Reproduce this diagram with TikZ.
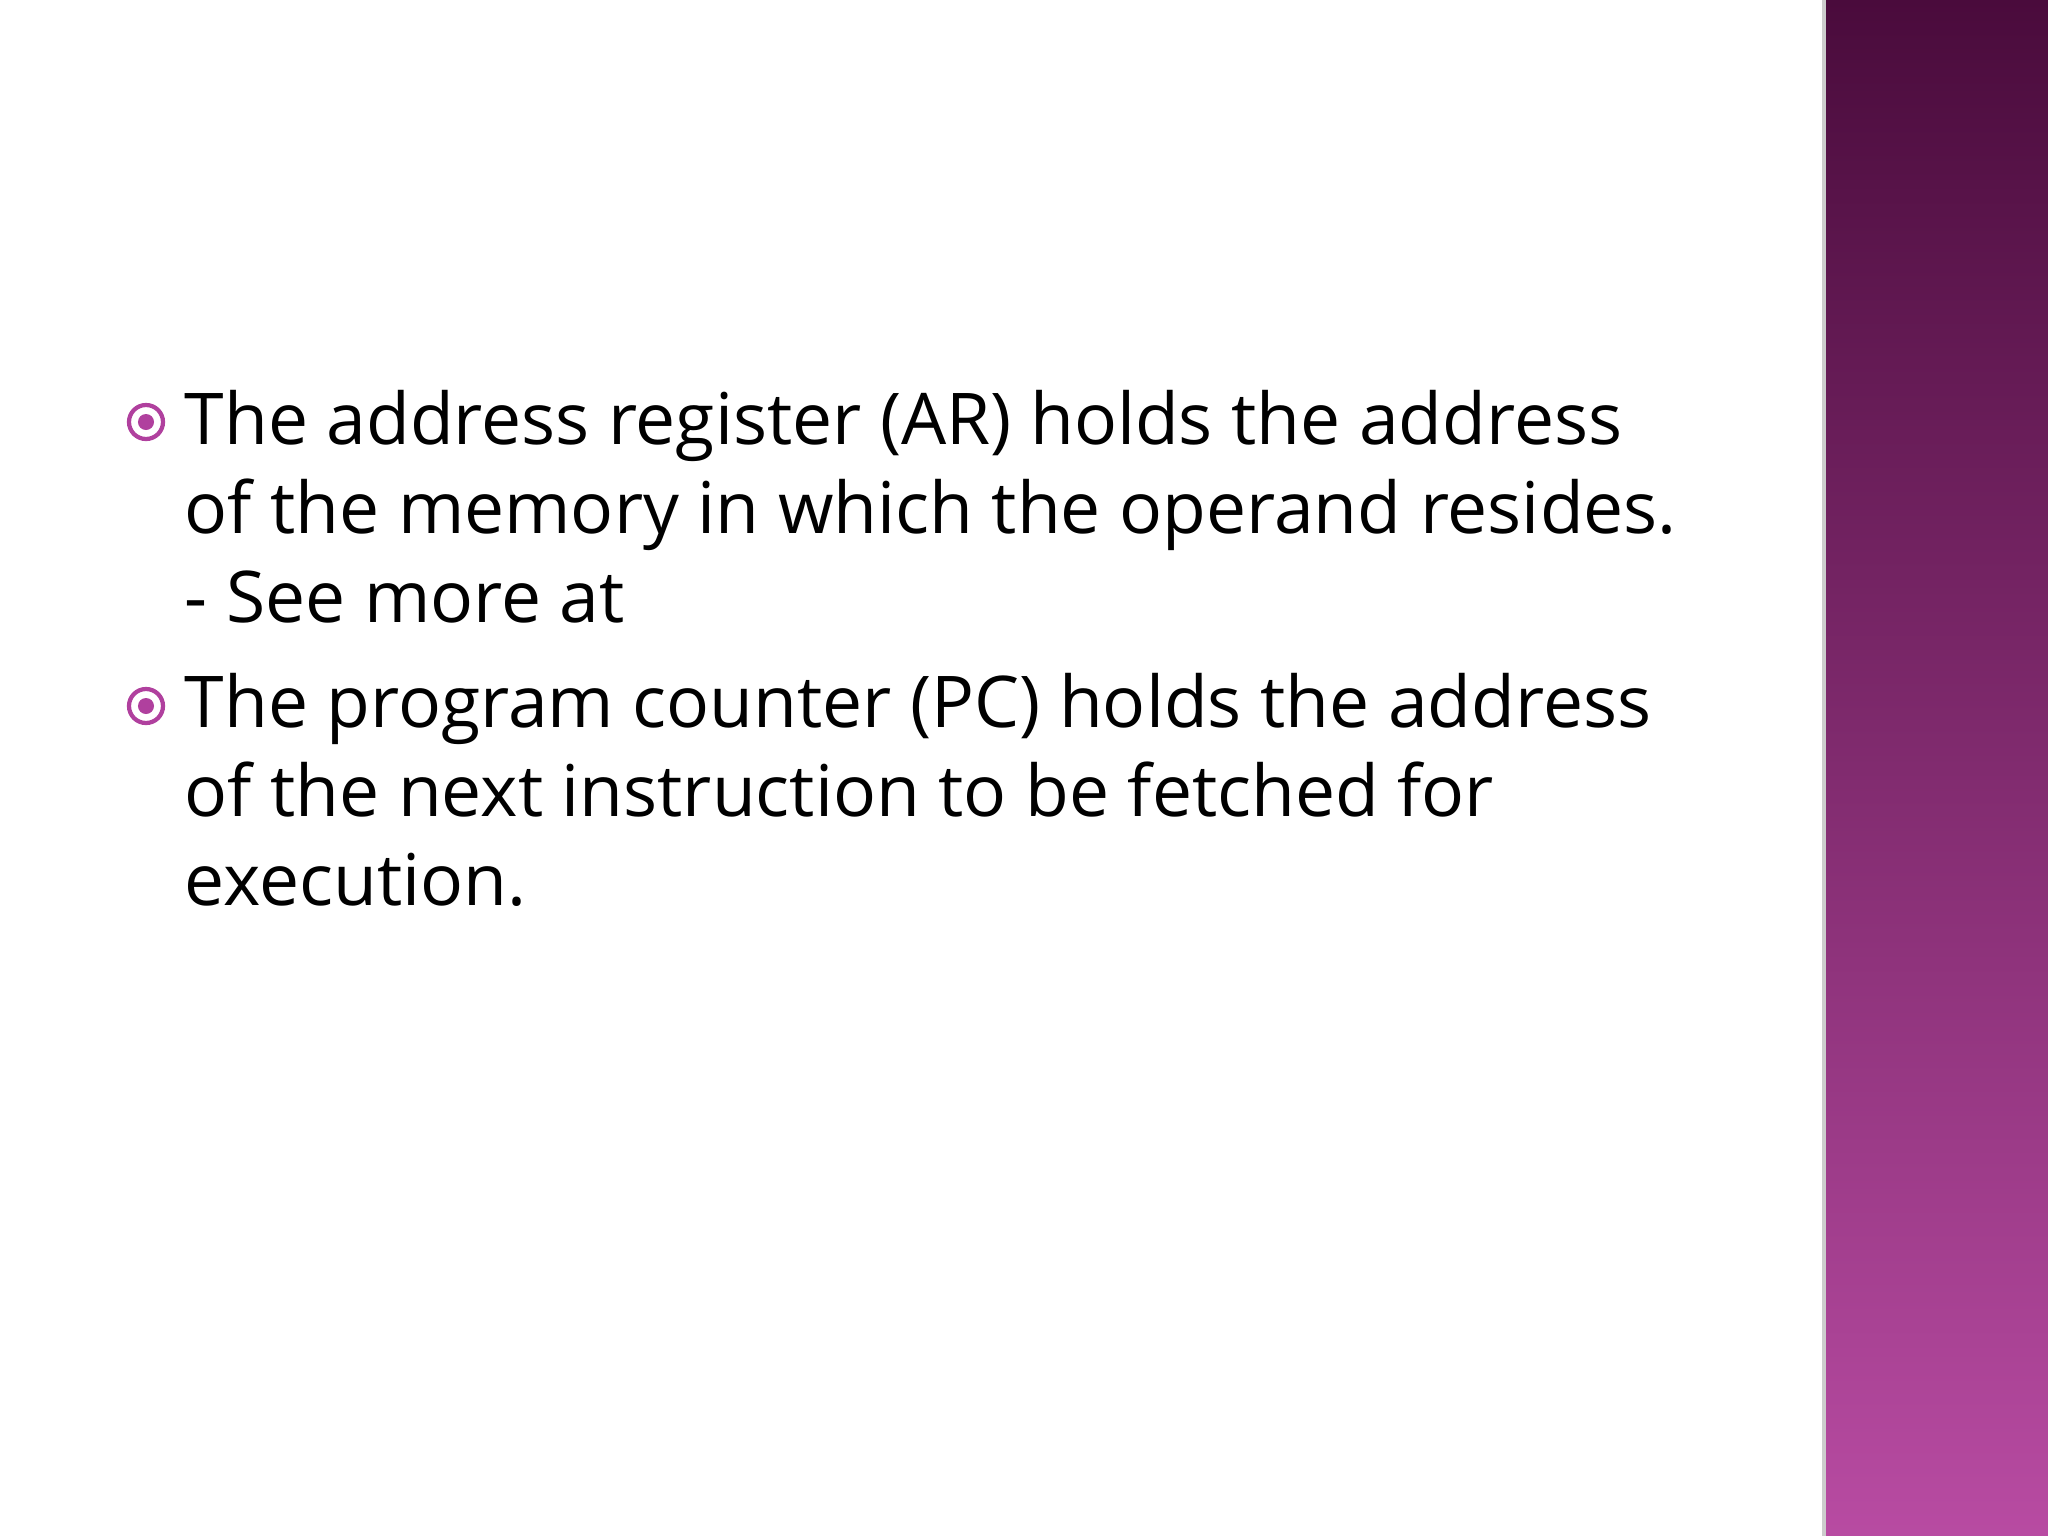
\documentclass[tikz,border=0pt]{standalone}
\usepackage{fontspec}
\setmainfont{Open Sans}
\begin{document}
\begin{tikzpicture}[x=0.01cm,y=-0.01cm]
\definecolor{bandtop}{HTML}{4A0B3C}
\definecolor{bandbot}{HTML}{B84BA2}
\definecolor{bul}{HTML}{B0409E}
\tikzset{txt/.style={anchor=base west,font=\fontsize{20.3}{25.3}\selectfont,inner sep=0pt},
bulring/.style={draw=bul,line width=1.2pt,fill=white,circle,minimum size=0.34cm,inner sep=0pt},
buldot/.style={fill=bul,circle,minimum size=0.16cm,inner sep=0pt}}
\useasboundingbox (0,0) rectangle (2048,1536);
\fill[white] (0,0) rectangle (2048,1536);
\fill[gray!40] (1822,0) rectangle (1828,1536);
\shade[top color=bandtop,bottom color=bandbot] (1826,0) rectangle (2048,1536);
\node[bulring] (b1) at (146,422) {};
\node[buldot] (d1) at (b1) {};
\node[bulring] (b2) at (146,706) {};
\node[buldot] (d2) at (b2) {};
\node[txt] (t1a) at (184,444) {The address register (AR) holds the address};
\node[txt] (t1b) at (184,533) {of the memory in which the operand resides.};
\node[txt] (t1c) at (184,622) {- See more at};
\node[txt] (t2a) at (184,727) {The program counter (PC) holds the address};
\node[txt] (t2b) at (184,816) {of the next instruction to be fetched for};
\node[txt] (t2c) at (184,905) {execution.};
\end{tikzpicture}
\end{document}
